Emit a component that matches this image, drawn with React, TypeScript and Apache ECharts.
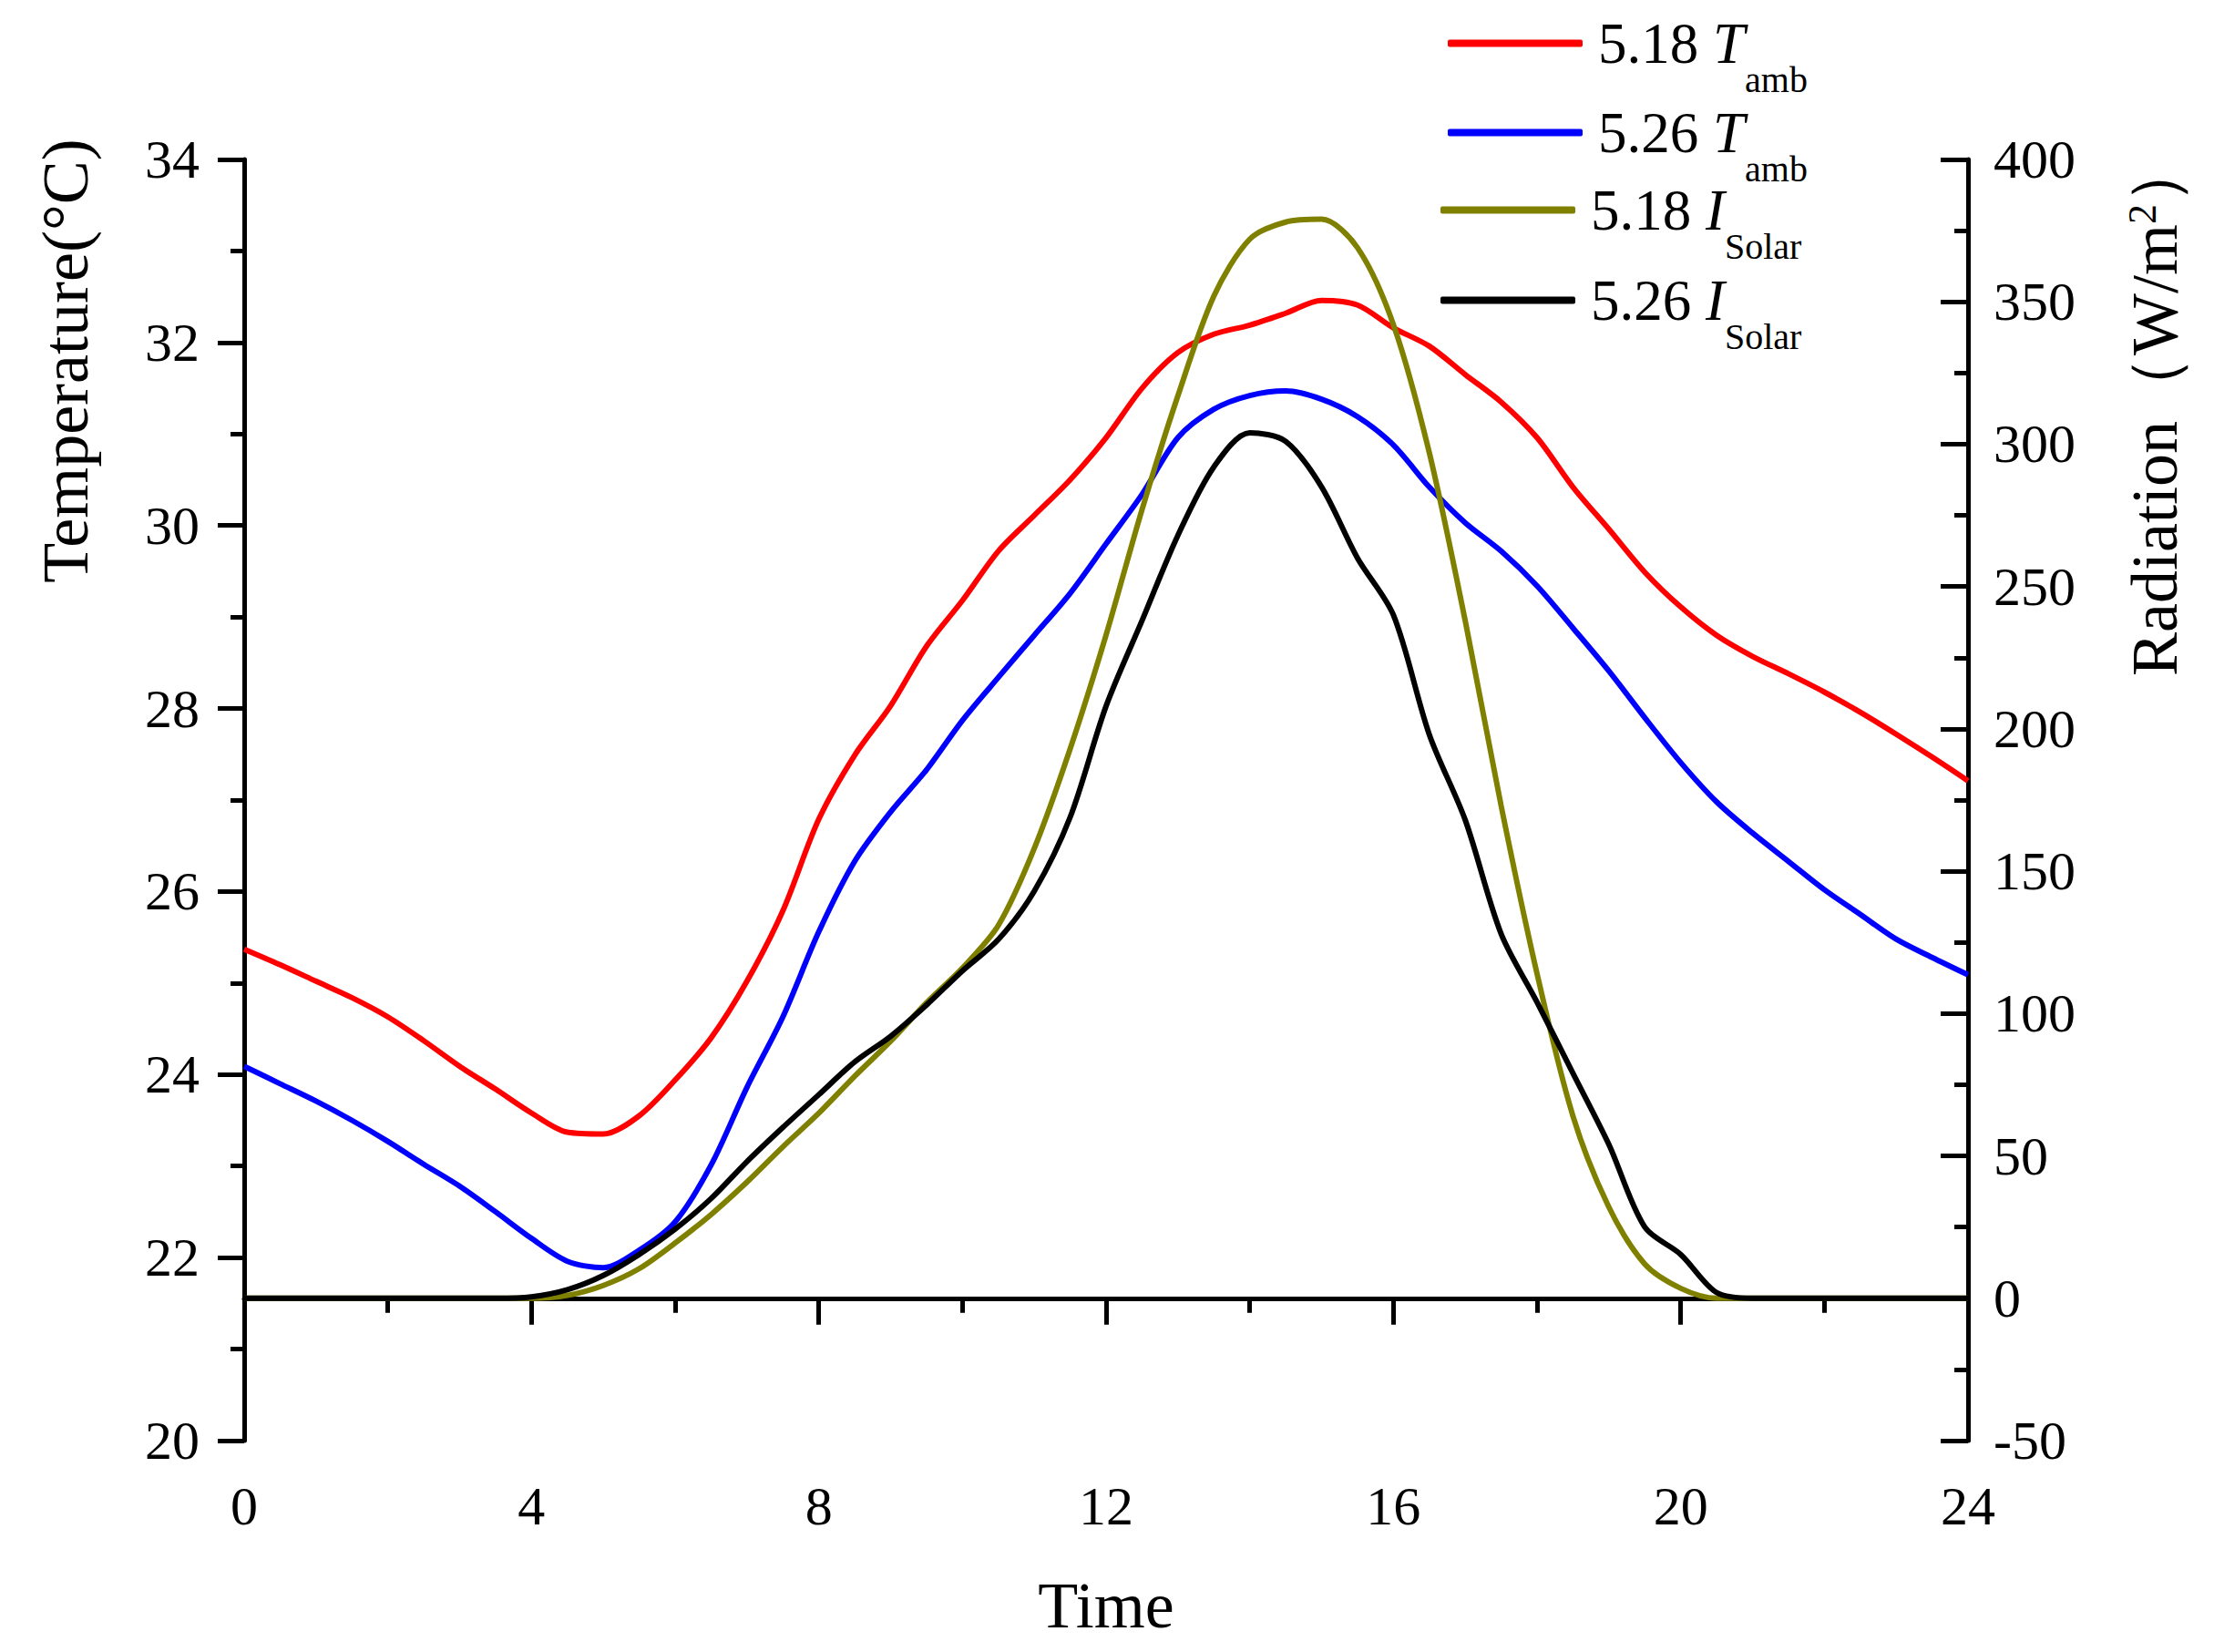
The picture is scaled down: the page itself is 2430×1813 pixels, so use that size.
import React, { useEffect, useRef } from "react";
import * as echarts from "echarts";

const timeHours = [
  0, 0.5, 1, 1.5, 2, 2.5, 3, 3.5, 4, 4.5, 5, 5.5, 6, 6.5, 7, 7.5, 8, 8.5, 9, 9.5,
  10, 10.5, 11, 11.5, 12, 12.5, 13, 13.5, 14, 14.5, 15, 15.5, 16, 16.5, 17, 17.5,
  18, 18.5, 19, 19.5, 20, 20.5, 21, 21.5, 22, 22.5, 23, 23.5, 24,
];

const tamb518 = [
  25.37, 25.2, 25.02, 24.84, 24.63, 24.37, 24.09, 23.84, 23.58, 23.37, 23.35, 23.55,
  23.94, 24.4, 25.02, 25.79, 26.79, 27.49, 28.03, 28.68, 29.18, 29.72, 30.11, 30.5,
  30.96, 31.5, 31.89, 32.09, 32.19, 32.32, 32.46, 32.41, 32.16, 31.96, 31.65, 31.35,
  30.96, 30.42, 29.96, 29.49, 29.11, 28.8, 28.57, 28.38, 28.18, 27.96, 27.72, 27.47,
  27.21,
];

const tamb526 = [
  24.09, 23.9, 23.71, 23.5, 23.27, 23.02, 22.78, 22.5, 22.21, 21.96, 21.89, 22.08,
  22.39, 23.01, 23.86, 24.63, 25.56, 26.33, 26.87, 27.33, 27.87, 28.34, 28.8, 29.26,
  29.8, 30.34, 30.96, 31.27, 31.42, 31.47, 31.38, 31.19, 30.88, 30.42, 30.03, 29.72,
  29.34, 28.88, 28.41, 27.9, 27.41, 26.98, 26.64, 26.33, 26.02, 25.75, 25.48, 25.28,
  25.09,
];

const solar518 = [
  0, 0, 0, 0, 0, 0, 0, 0, 0, 1, 4.5, 10.4, 19.4, 29.4, 40.8, 53.2, 65, 78, 90.3,
  103.8, 116, 131, 158, 193, 233, 277, 317, 352, 372, 378, 379, 369, 342, 297, 238,
  173, 114, 64, 32, 12, 3.5, 0, 0, 0, 0, 0, 0, 0, 0,
];

const solar526 = [
  0, 0, 0, 0, 0, 0, 0, 0, 0.5, 3, 8, 15.4, 24.3, 35, 48, 60, 71.5, 83, 92, 103, 115,
  126, 143, 169, 208, 238, 268, 292, 304, 301, 285, 260, 240, 198, 168, 128, 104, 79,
  54, 25, 15.4, 2, 0, 0, 0, 0, 0, 0, 0,
];

const seriesNames = ["5.18 Tamb", "5.26 Tamb", "5.18 ISolar", "5.26 ISolar"];
const seriesColors = ["#ff0000", "#0000ff", "#808000", "#000000"];
const legendRich = [
  "{n|5.18 }{i|T}{s|amb}",
  "{n|5.26 }{i|T}{s|amb}",
  "{n|5.18 }{i|I}{s|Solar}",
  "{n|5.26 }{i|I}{s|Solar}",
];

const FONT = "'Liberation Serif', 'Times New Roman', serif";

export default function App() {
  const ref = useRef<HTMLDivElement>(null);

  useEffect(() => {
    document.body.style.margin = "0";
    const chart = echarts.init(ref.current!, null, { renderer: "svg" });
    const pairs = (arr: number[]) => timeHours.map((t, i) => [t, arr[i]]);
    const allData = [tamb518, tamb526, solar518, solar526];

    const legendLeft = [1589, 1589, 1581, 1581];
    const legendTop = [16, 114, 199, 298];
    const textH = 120;
    const axisW = 5;

    const option: any = {
      animation: false,
      backgroundColor: "#ffffff",
      grid: { left: 268, right: 270, top: 175, bottom: 232 },
      legend: seriesNames.map((name, i) => ({
        data: [name],
        left: legendLeft[i],
        top: legendTop[i],
        padding: 0,
        icon: "roundRect",
        itemWidth: 148,
        itemHeight: 8,
        selectedMode: false,
        formatter: (n: string) => legendRich[seriesNames.indexOf(n)],
        textStyle: {
          color: "#000",
          fontFamily: FONT,
          rich: {
            n: { fontSize: 63, fontFamily: FONT, color: "#000", lineHeight: textH, padding: [0, 0, 0, 12] },
            i: { fontSize: 63, fontFamily: FONT, fontStyle: "italic", color: "#000", lineHeight: textH },
            s: { fontSize: 40, fontFamily: FONT, color: "#000", lineHeight: 56, verticalAlign: "bottom" },
          },
        },
      })),
      xAxis: {
        type: "value",
        min: 0,
        max: 24,
        interval: 4,
        name: "Time",
        nameLocation: "middle",
        nameGap: 145,
        nameTextStyle: { fontSize: 72, fontFamily: FONT, color: "#000" },
        axisLine: { show: true, lineStyle: { color: "#000", width: axisW } },
        axisTick: { show: true, length: 29, inside: false, lineStyle: { color: "#000", width: axisW } },
        minorTick: { show: true, splitNumber: 2, length: 16, lineStyle: { color: "#000", width: axisW } },
        splitLine: { show: false },
        minorSplitLine: { show: false },
        axisLabel: { fontSize: 60, fontFamily: FONT, color: "#000", margin: 42 },
      },
      yAxis: [
        {
          type: "value",
          position: "left",
          min: 20,
          max: 34,
          interval: 2,
          name: "Temperature(°C)",
          nameLocation: "middle",
          nameGap: 160,
          nameTextStyle: { fontSize: 72, fontFamily: FONT, color: "#000", padding: [0, 0, 0, 964] },
          axisLine: { show: true, lineStyle: { color: "#000", width: axisW } },
          axisTick: { show: true, length: 29, inside: false, lineStyle: { color: "#000", width: axisW } },
          minorTick: { show: true, splitNumber: 2, length: 15, lineStyle: { color: "#000", width: axisW } },
          splitLine: { show: false },
          minorSplitLine: { show: false },
          axisLabel: { fontSize: 60, fontFamily: FONT, color: "#000", margin: 49 },
        },
        {
          type: "value",
          position: "right",
          min: -50,
          max: 400,
          interval: 50,
          name: "Radiation（W/m{sup|2}）",
          nameLocation: "middle",
          nameGap: 169,
          nameTextStyle: {
            fontSize: 72,
            fontFamily: FONT,
            color: "#000",
            padding: [0, 0, 0, 862],
            rich: {
              sup: { fontSize: 44, fontFamily: FONT, color: "#000", verticalAlign: "top", lineHeight: 40 },
            },
          },
          axisLine: { show: true, lineStyle: { color: "#000", width: axisW } },
          axisTick: { show: true, length: 30, inside: true, lineStyle: { color: "#000", width: axisW } },
          minorTick: { show: true, splitNumber: 2, length: 15, lineStyle: { color: "#000", width: axisW } },
          splitLine: { show: false },
          minorSplitLine: { show: false },
          axisLabel: { fontSize: 60, fontFamily: FONT, color: "#000", margin: 28 },
        },
      ],
      series: seriesNames.map((name, i) => ({
        name,
        type: "line",
        yAxisIndex: i < 2 ? 0 : 1,
        data: pairs(allData[i]),
        showSymbol: false,
        symbol: "none",
        smooth: 0.3,
        color: seriesColors[i],
        lineStyle: { color: seriesColors[i], width: 6 },
      })),
    };

    chart.setOption(option);
    return () => chart.dispose();
  }, []);

  return <div ref={ref} style={{ width: 2430, height: 1813, background: "#fff" }} />;
}
